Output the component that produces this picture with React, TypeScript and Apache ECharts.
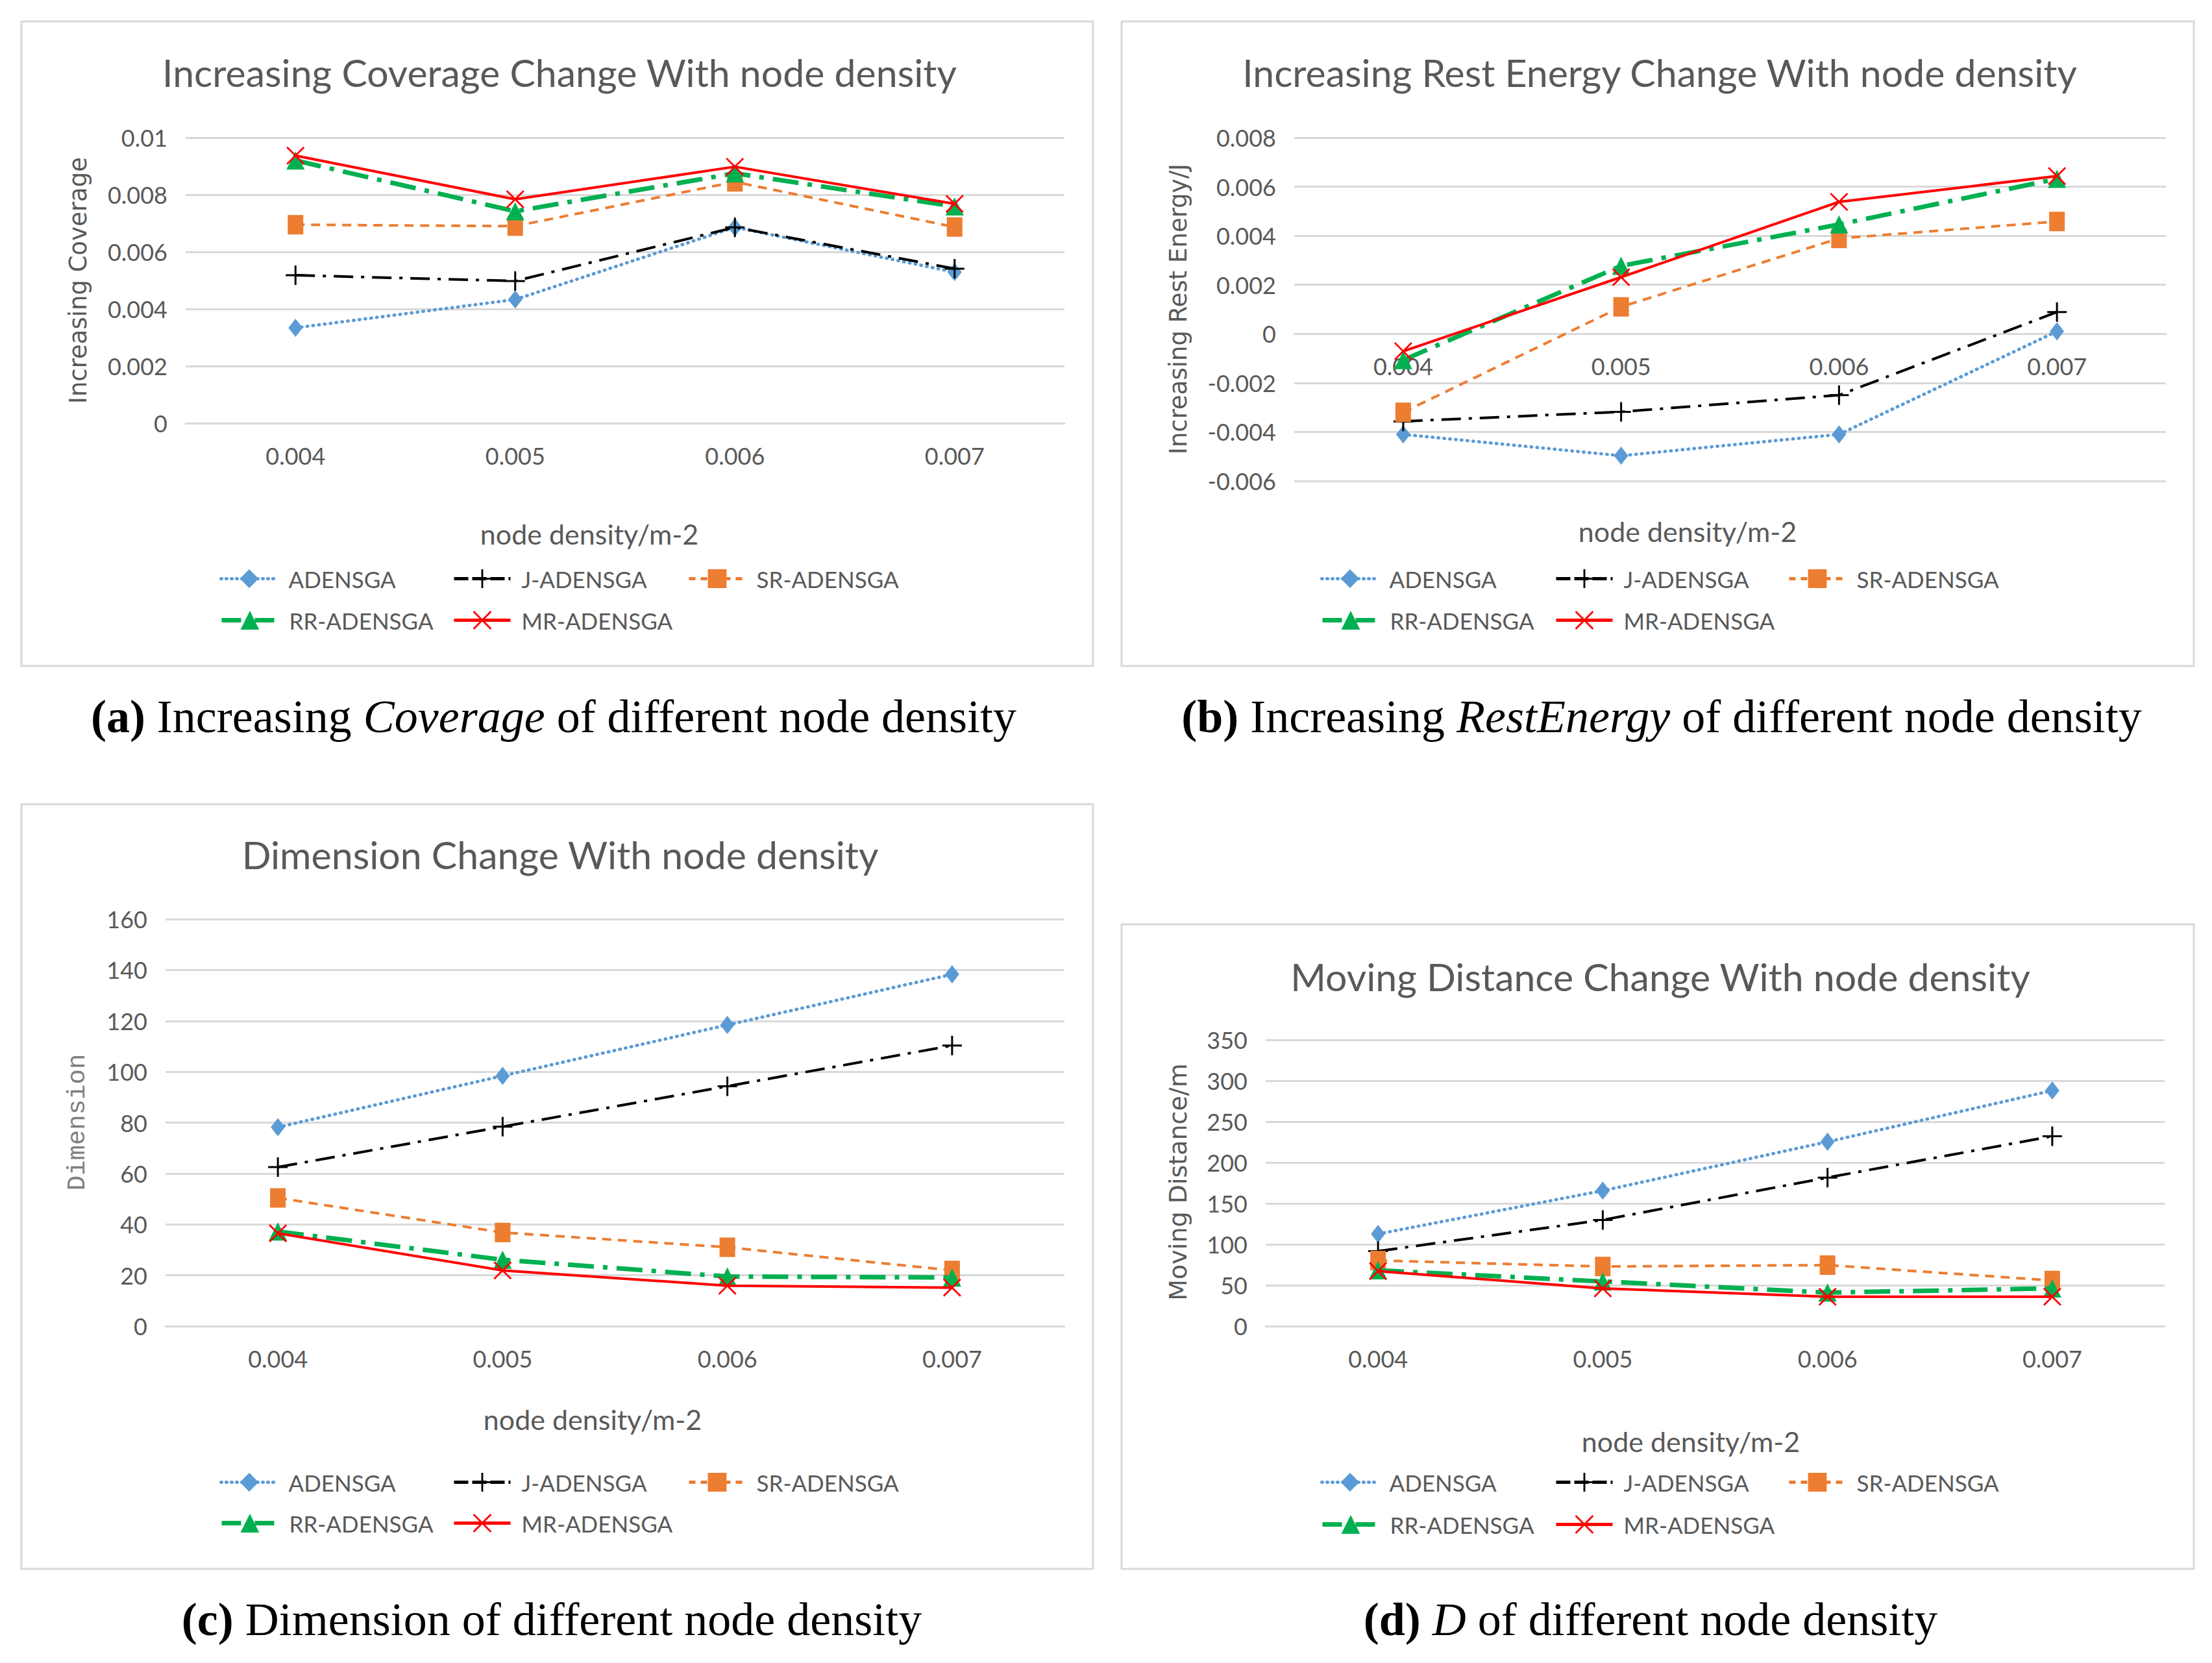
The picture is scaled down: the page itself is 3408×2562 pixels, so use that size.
import React, { useEffect, useRef } from 'react';
import * as echarts from 'echarts';

const categories = ['0.004', '0.005', '0.006', '0.007'];
const seriesNames = ['ADENSGA', 'J-ADENSGA', 'SR-ADENSGA', 'RR-ADENSGA', 'MR-ADENSGA'];

// (a) Increasing Coverage
const coverageADENSGA = [0.00334, 0.00433, 0.00686, 0.00529];
const coverageJ = [0.00518, 0.00498, 0.00686, 0.00541];
const coverageSR = [0.00695, 0.0069, 0.00845, 0.00687];
const coverageRR = [0.0092, 0.00742, 0.00875, 0.00759];
const coverageMR = [0.00937, 0.00784, 0.00898, 0.00768];

// (b) Increasing Rest Energy
const energyADENSGA = [-0.0041, -0.00497, -0.0041, 0.0001];
const energyJ = [-0.00357, -0.00318, -0.0025, 0.00089];
const energySR = [-0.0032, 0.0011, 0.00389, 0.00458];
const energyRR = [-0.00107, 0.00277, 0.00446, 0.00632];
const energyMR = [-0.00071, 0.00231, 0.00538, 0.00643];

// (c) Dimension
const dimADENSGA = [78.2, 98.4, 118.4, 138.3];
const dimJ = [62.5, 78.4, 94.3, 110.3];
const dimSR = [50.4, 36.8, 31.0, 21.9];
const dimRR = [37.2, 26.1, 19.5, 19.1];
const dimMR = [36.5, 21.9, 15.9, 15.1];

// (d) Moving Distance
const distADENSGA = [112.7, 165.6, 225.4, 288];
const distJ = [91.6, 129.8, 181.6, 232.2];
const distSR = [80.2, 72.9, 74.6, 55.8];
const distRR = [68.3, 54.6, 41, 46.1];
const distMR = [67.2, 46.1, 35.9, 35.9];

const yMins = [0, -0.006, 0, 0];
const yMaxs = [0.01, 0.008, 160, 350];
const ySteps = [0.002, 0.002, 20, 50];

const chartTitles = [
  'Increasing Coverage Change With node density',
  'Increasing Rest Energy Change With node density',
  'Dimension Change With node density',
  'Moving Distance Change With node density',
];
const yNames = ['Increasing Coverage', 'Increasing Rest Energy/J', 'Dimension', 'Moving Distance/m'];
const xName = 'node density/m-2';
const captions = [
  '{b|(a)} Increasing {i|Coverage} of different node density',
  '{b|(b)} Increasing {i|RestEnergy} of different node density',
  '{b|(c)} Dimension of different node density',
  '{b|(d)} {i|D} of different node density',
];

const panelData = [
  [coverageADENSGA, coverageJ, coverageSR, coverageRR, coverageMR],
  [energyADENSGA, energyJ, energySR, energyRR, energyMR],
  [dimADENSGA, dimJ, dimSR, dimRR, dimMR],
  [distADENSGA, distJ, distSR, distRR, distMR],
];

const PLUS = 'path://M9,0 H11 V9 H20 V11 H11 V20 H9 V11 H0 V9 H9 Z';
const CROSS = 'path://M0,1.4 L1.4,0 L10,8.6 L18.6,0 L20,1.4 L11.4,10 L20,18.6 L18.6,20 L10,11.4 L1.4,20 L0,18.6 L8.6,10 Z';

const seriesStyles = [
  { color: '#5B9BD5', type: [1, 8] as any, width: 5, cap: 'round', symbol: 'diamond', size: [22, 28] },
  { color: '#000000', type: [30, 12, 5, 12] as any, width: 4, cap: 'butt', symbol: PLUS, size: 30 },
  { color: '#ED7D31', type: [14, 10] as any, width: 4, cap: 'butt', symbol: 'rect', size: [24, 30] },
  { color: '#00B050', type: [40, 14, 7, 14] as any, width: 7, cap: 'butt', symbol: 'triangle', size: [28, 28] },
  { color: '#FF0000', type: 'solid' as any, width: 4, cap: 'butt', symbol: CROSS, size: 28 },
];
const legendLineTypes = [[1, 7], [22, 6], [10, 8], [30, 8, 5, 8], 'solid'];

// layout (pixels)
const panels = [
  { box: [33, 33, 1651, 993], grid: [286, 212, 1354, 440], title: [862, 111], yName: [120, 432], xName: [908, 822], cap: [853, 1104], legendX: [338, 697, 1059], legendY: [892, 956] },
  { box: [1728, 33, 1652, 993], grid: [1994, 212, 1343, 529], title: [2557, 111], yName: [1815, 476], xName: [2600, 818], cap: [2560, 1104], legendX: [2034, 2395, 2754], legendY: [892, 956] },
  { box: [33, 1239, 1651, 1178], grid: [255, 1416, 1385, 627], title: [863, 1316], yName: [120, 1729], xName: [913, 2186], cap: [850, 2495], legendX: [338, 697, 1059], legendY: [2284, 2347] },
  { box: [1728, 1424, 1652, 993], grid: [1950, 1602, 1385, 441], title: [2558, 1504], yName: [1815, 1821], xName: [2605, 2220], cap: [2543, 2495], legendX: [2034, 2395, 2754], legendY: [2284, 2349] },
];

const TEXT = '#595959';
const GRIDC = '#D9D9D9';
const SANS = 'Lato';

function buildOption() {
  const grid: any[] = [];
  const xAxis: any[] = [];
  const yAxis: any[] = [];
  const series: any[] = [];
  const legend: any[] = [];
  const graphic: any[] = [];

  panels.forEach((p, pi) => {
    grid.push({ left: p.grid[0], top: p.grid[1], width: p.grid[2], height: p.grid[3], containLabel: false });
    // panel (b): the category axis sits on the zero line
    const zeroOffset = yMins[pi] < 0 ? -(p.grid[3] * (0 - yMins[pi])) / (yMaxs[pi] - yMins[pi]) : 0;
    xAxis.push({
      type: 'category', gridIndex: pi, data: categories, boundaryGap: true,
      position: 'bottom', offset: zeroOffset,
      axisTick: { show: false },
      axisLine: { show: true, onZero: false, lineStyle: { color: GRIDC, width: 3 } },
      axisLabel: { color: TEXT, fontSize: 36, fontFamily: SANS, margin: 32 },
    });
    yAxis.push({
      type: 'value', gridIndex: pi, min: yMins[pi], max: yMaxs[pi], interval: ySteps[pi],
      axisLine: { show: false }, axisTick: { show: false },
      splitLine: { show: true, lineStyle: { color: GRIDC, width: 3 } },
      axisLabel: { color: TEXT, fontSize: 36, fontFamily: SANS, margin: 28 },
    });
    panelData[pi].forEach((vals, si) => {
      const st = seriesStyles[si];
      series.push({
        type: 'line', name: seriesNames[si], xAxisIndex: pi, yAxisIndex: pi, data: vals,
        symbol: st.symbol, symbolSize: st.size, showSymbol: true,
        itemStyle: { color: st.color },
        lineStyle: { color: st.color, width: st.width, type: st.type, cap: st.cap },
        z: 2 + si,
      });
    });
    seriesNames.forEach((nm, si) => {
      const row = si < 3 ? 0 : 1;
      const col = si < 3 ? si : si - 3;
      const st = seriesStyles[si];
      legend.push({
        data: [nm], left: p.legendX[col], top: p.legendY[row] - 18, padding: 0,
        itemWidth: 87, itemHeight: 36, selectedMode: false,
        lineStyle: { width: si === 3 ? 7 : 5, type: legendLineTypes[si], color: st.color, cap: st.cap },
        textStyle: { color: TEXT, fontSize: 35, fontFamily: SANS, padding: [0, 0, 0, 12] },
      });
    });
    graphic.push({
      type: 'rect', shape: { x: p.box[0], y: p.box[1], width: p.box[2], height: p.box[3] },
      style: { fill: 'rgba(0,0,0,0)', stroke: GRIDC, lineWidth: 3 }, z: 0,
    });
    graphic.push({
      type: 'text', x: p.title[0], y: p.title[1],
      style: { text: chartTitles[pi], fill: TEXT, fontSize: 59, fontFamily: SANS, align: 'center', verticalAlign: 'middle' },
    });
    graphic.push({
      type: 'text', x: p.xName[0], y: p.xName[1],
      style: { text: xName, fill: TEXT, fontSize: 43, fontFamily: SANS, align: 'center', verticalAlign: 'middle' },
    });
    const isDim = pi === 2;
    graphic.push({
      type: 'text', x: p.yName[0], y: p.yName[1], rotation: Math.PI / 2,
      style: {
        text: yNames[pi], fill: isDim ? '#7F7F7F' : TEXT,
        fontSize: isDim ? 39 : (pi === 3 ? 38 : 37),
        fontFamily: isDim ? 'Liberation Mono' : 'DejaVu Sans',
        align: 'center', verticalAlign: 'middle',
      },
    });
    graphic.push({
      type: 'text', x: p.cap[0], y: p.cap[1],
      style: {
        text: captions[pi], fill: '#000', fontSize: 72, fontFamily: 'Liberation Serif',
        align: 'center', verticalAlign: 'middle',
        rich: {
          b: { fontWeight: 'bold', fontSize: 72, fontFamily: 'Liberation Serif', fill: '#000' },
          i: { fontStyle: 'italic', fontSize: 72, fontFamily: 'Liberation Serif', fill: '#000' },
        },
      },
    });
  });

  return {
    animation: false,
    backgroundColor: '#ffffff',
    grid, xAxis, yAxis, series, legend, graphic,
  };
}

export default function App() {
  const ref = useRef<HTMLDivElement>(null);
  useEffect(() => {
    if (!ref.current) return;
    const chart = echarts.init(ref.current, undefined, { renderer: 'svg' });
    chart.setOption(buildOption() as any);
    return () => chart.dispose();
  }, []);
  return (
    <div
      ref={ref}
      style={{ position: 'absolute', left: 0, top: 0, width: 3408, height: 2562, background: '#fff' }}
    />
  );
}
